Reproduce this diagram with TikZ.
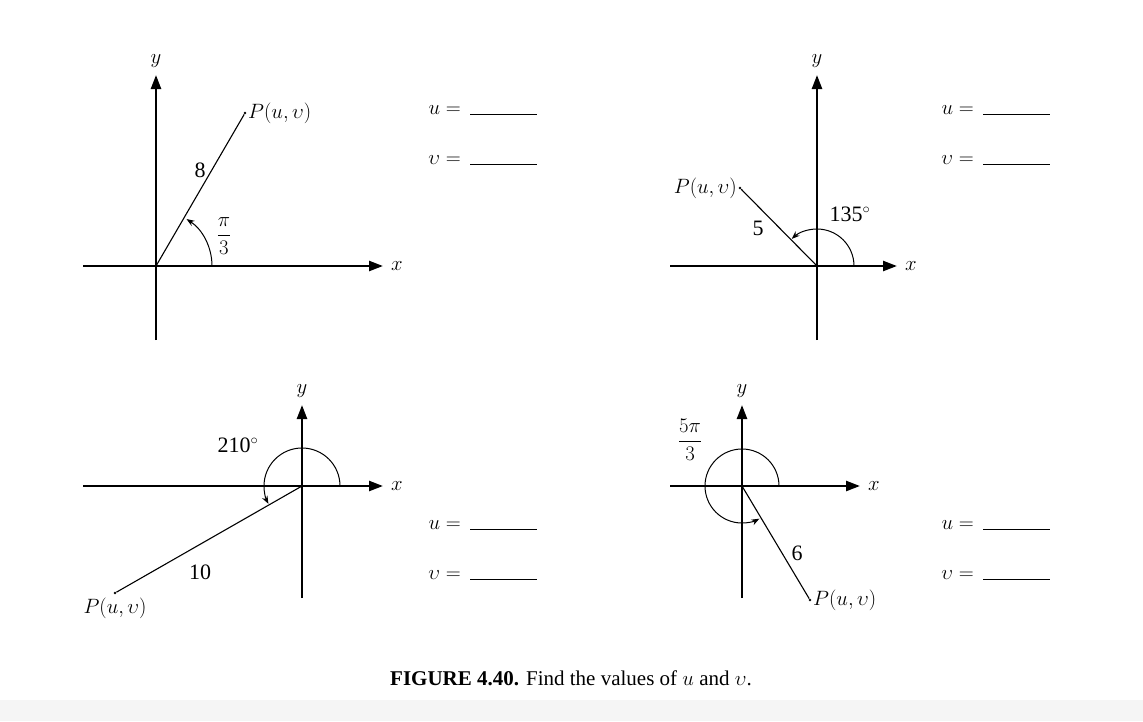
\documentclass[tikz,border=0pt]{standalone}
\usepackage{fontspec}
\setmainfont{Liberation Serif}
\usetikzlibrary{arrows.meta}
\begin{document}
\begin{tikzpicture}[x=1pt,y=-1pt,
  axis/.style={line width=2.4pt,-{Triangle[length=14pt,width=10pt]}},
  ray/.style={line width=1.1pt},
  arc/.style={line width=1pt,-{Stealth[length=8pt]}},
  lbl/.style={font=\fontsize{22}{24}\selectfont,inner sep=1pt},
  dot/.style={circle,fill,inner sep=1.4pt}]
\fill[white] (0,0) rectangle (1143,721);
\fill[black!4] (0,700) rectangle (1143,721);
\useasboundingbox (0,0) rectangle (1143,721);
\newcommand{\blanks}[2]{%
 \node[lbl,anchor=east] at (#1,#2) {$u=$};
 \draw[line width=0.8pt] (#1+8,#2+4) -- (#1+75,#2+4);
 \node[lbl,anchor=east] at (#1,#2+50) {$\upsilon=$};
 \draw[line width=0.8pt] (#1+8,#2+54) -- (#1+75,#2+54);}
% panel 1
\coordinate (o1) at (156,266);
\draw[axis] (156,340) -- (156,75) node[lbl,above=5pt] (y1) {$y$};
\draw[axis] (83,266) -- (383,266) node[lbl,right=6pt] (x1) {$x$};
\node[dot,inner sep=1pt] (p1) at (245,113) {};
\draw[ray] (o1) -- (p1);
\node[lbl,right=2pt] at (p1) {$P(u,\upsilon)$};
\node[lbl] at (200,170) {8};
\draw[arc] (212,266) arc[start angle=0,end angle=-57,radius=56];
\node[lbl] at (224,236) {$\displaystyle\frac{\pi}{3}$};
\blanks{462}{110}
% panel 2
\coordinate (o2) at (817,266);
\draw[axis] (817,340) -- (817,75) node[lbl,above=5pt] (y2) {$y$};
\draw[axis] (670,266) -- (897,266) node[lbl,right=6pt] (x2) {$x$};
\node[dot,inner sep=1pt] (p2) at (740,188) {};
\draw[ray] (o2) -- (p2);
\node[lbl,left=2pt] at (p2) {$P(u,\upsilon)$};
\node[lbl] at (758,228) {5};
\draw[arc] (854,266) arc[start angle=0,end angle=-133,radius=37];
\node[lbl] at (850,214) {135$^\circ$};
\blanks{975}{110}
% panel 3
\coordinate (o3) at (302,486);
\draw[axis] (302,598) -- (302,405) node[lbl,above=5pt] (y3) {$y$};
\draw[axis] (83,486) -- (383,486) node[lbl,right=6pt] (x3) {$x$};
\node[dot,inner sep=1pt] (p3) at (115,593) {};
\draw[ray] (o3) -- (p3);
\node[lbl,below=4pt] at (p3) {$P(u,\upsilon)$};
\node[lbl] at (200,572) {10};
\draw[arc] (340,486) arc[start angle=0,end angle=-208,radius=38];
\node[lbl] at (238,445) {210$^\circ$};
\blanks{462}{525}
% panel 4
\coordinate (o4) at (742,486);
\draw[axis] (742,598) -- (742,405) node[lbl,above=5pt] (y4) {$y$};
\draw[axis] (670,486) -- (860,486) node[lbl,right=6pt] (x4) {$x$};
\node[dot,inner sep=1pt] (p4) at (810,600) {};
\draw[ray] (o4) -- (p4);
\node[lbl,right=2pt] at (p4) {$P(u,\upsilon)$};
\node[lbl] at (797,553) {6};
\draw[arc] (779,486) arc[start angle=0,end angle=-298,radius=37];
\node[lbl] at (690,440) {$\displaystyle\frac{5\pi}{3}$};
\blanks{975}{525}
\node[font=\fontsize{21}{23}\selectfont] (cap) at (571,678) {\textbf{FIGURE 4.40.} Find the values of $u$ and $\upsilon$.};
\end{tikzpicture}
\end{document}
